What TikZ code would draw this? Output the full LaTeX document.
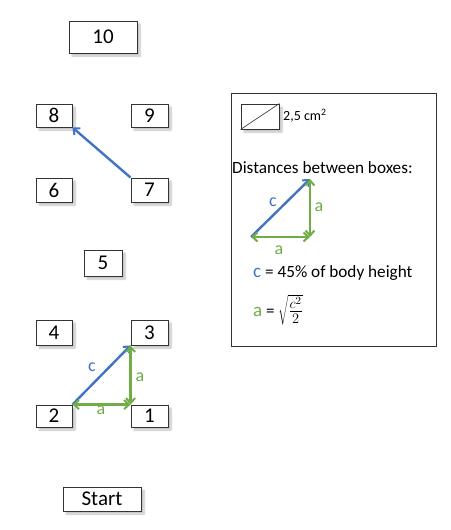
\documentclass[tikz,border=0pt]{standalone}
\usepackage{fontspec}
\setmainfont{Carlito}
\usetikzlibrary{arrows.meta,shadows.blur}
\definecolor{cblue}{HTML}{4472C4}
\definecolor{agreen}{HTML}{70AD47}
\tikzset{
  numbox/.style={draw=black!80,line width=0.9pt,fill=white,inner sep=0pt,
    font=\fontsize{21}{21}\selectfont,
    blur shadow={shadow xshift=3pt,shadow yshift=-3pt,shadow blur steps=6,shadow opacity=25}},
  carrow/.style={cblue,line width=2.4pt,-{Straight Barb[length=5pt,width=9pt,line width=2pt]}},
  aarrow/.style={agreen,line width=2.4pt,{Straight Barb[length=5pt,width=9pt,line width=2pt]}-{Straight Barb[length=5pt,width=9pt,line width=2pt]}},
  clabel/.style={text=cblue,font=\fontsize{18}{18}\selectfont},
  alabel/.style={text=agreen,font=\fontsize{18}{18}\selectfont},
}
\begin{document}
\begin{tikzpicture}[x=1pt,y=-1pt]
\useasboundingbox (0,0) rectangle (450,530);
% boxes
\node[numbox,minimum width=68pt,minimum height=32pt] (n10) at (103,37) {10};
\node[numbox,minimum width=36pt,minimum height=23pt] (n8) at (54,115.5) {8};
\node[numbox,minimum width=37pt,minimum height=23pt] (n9) at (149.5,115.5) {9};
\node[numbox,minimum width=36pt,minimum height=24pt] (n6) at (54,190) {6};
\node[numbox,minimum width=37pt,minimum height=24pt] (n7) at (149.5,190) {7};
\node[numbox,minimum width=38pt,minimum height=26pt] (n5) at (103,263) {5};
\node[numbox,minimum width=36pt,minimum height=25pt] (n4) at (54,332.5) {4};
\node[numbox,minimum width=37pt,minimum height=25pt] (n3) at (149.5,332.5) {3};
\node[numbox,minimum width=36pt,minimum height=22pt] (n2) at (54,416) {2};
\node[numbox,minimum width=37pt,minimum height=22pt] (n1) at (149.5,416) {1};
\node[numbox,minimum width=78pt,minimum height=24pt] (start) at (102,499) {Start};
% arrows top
\draw[carrow] (n7.north west) -- (n8.south east);
% arrows bottom
\draw[carrow] (n2.north east) -- (n3.south west);
\draw[aarrow] (n3.south west) -- (n1.north west);
\draw[aarrow] (n2.north east) -- (n1.north west);
\node[clabel] (lc1) at (92,367) {c};
\node[alabel] (la1) at (140,377) {a};
\node[alabel] (la2) at (101,410) {a};
% legend
\node[draw=black!80,line width=0.9pt,minimum width=205pt,minimum height=253pt,inner sep=0pt] (leg) at (333.5,219.5) {};
\node[draw=black!80,line width=0.9pt,fill=white,minimum width=38pt,minimum height=25pt,inner sep=0pt,
  blur shadow={shadow xshift=3pt,shadow yshift=-3pt,shadow blur steps=6,shadow opacity=25}] (sq) at (260,116.5) {};
\draw[black!80,line width=0.6pt] (sq.south west) -- (sq.north east);
\node[anchor=west,inner sep=0pt,font=\fontsize{14}{14}\selectfont] (area) at (283,116) {2,5 cm\textsuperscript{2}};
\node[anchor=west,inner sep=0pt,font=\fontsize{17.2}{17.2}\selectfont] (dist) at (232,168) {Distances between boxes:};
\coordinate (tA) at (251,237);
\coordinate (tB) at (310,179);
\coordinate (tC) at (310,237);
\draw[carrow] (tA) -- (tB);
\draw[aarrow] (tB) -- (tC);
\draw[aarrow] (tA) -- (tC);
\node[clabel] (lc2) at (273,202) {c};
\node[alabel] (la3) at (319,207) {a};
\node[alabel] (la4) at (279,250) {a};
\node[anchor=west,inner sep=0pt,font=\fontsize{17.2}{17.2}\selectfont] (ceq) at (253,273) {\textcolor{cblue}{\fontsize{19}{19}\selectfont c} = 45\% of body height};
\node[anchor=west,inner sep=0pt,font=\fontsize{17}{17}\selectfont] (aeq) at (253,310) {\textcolor{agreen}{\fontsize{19}{19}\selectfont a} = {\fontsize{22}{22}\selectfont$\sqrt{\frac{c^2}{2}}$}};
\end{tikzpicture}
\end{document}
